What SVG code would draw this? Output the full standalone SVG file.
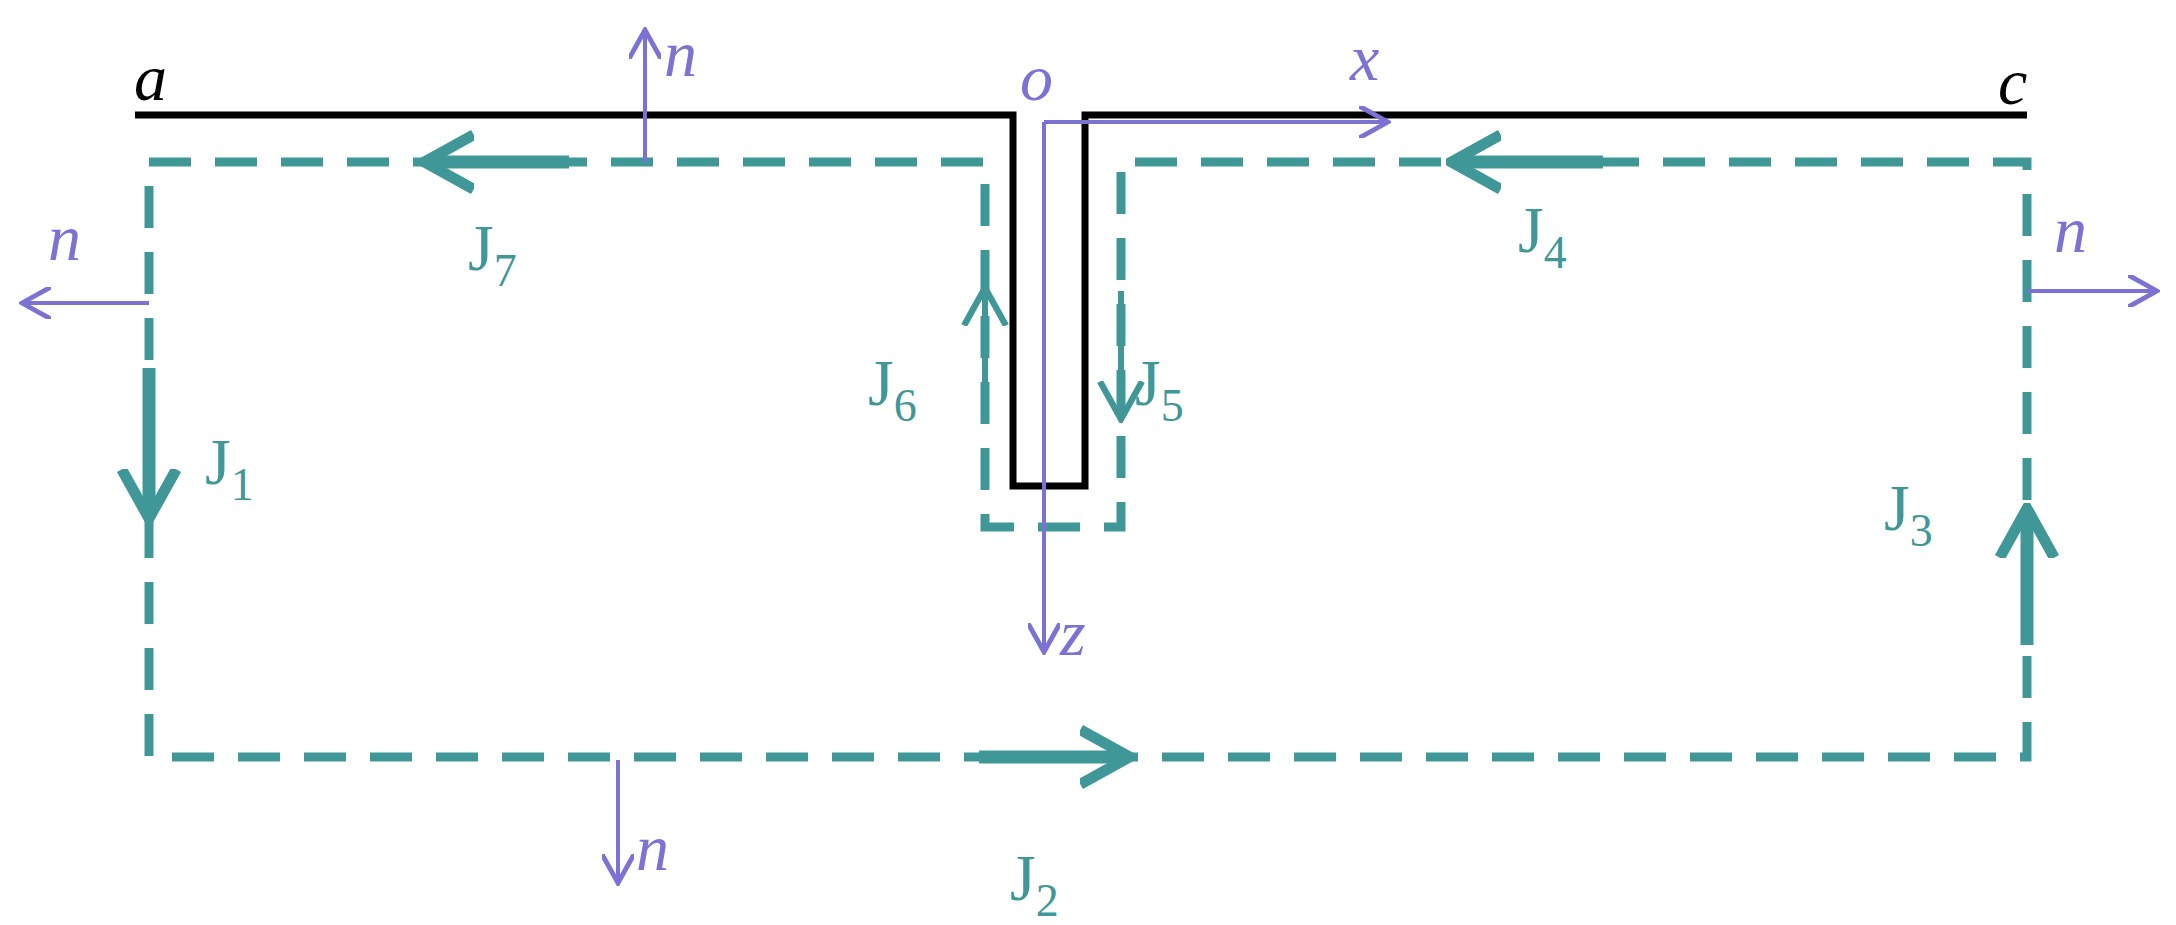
<svg xmlns="http://www.w3.org/2000/svg" width="2176" height="925" viewBox="0 0 2176 925">
<style>
.t{font-family:"Liberation Serif",serif;font-size:66px}
.it{font-style:italic}
.tl{fill:#3f9797}
.bl{fill:#7b72d4}
.dash{fill:none;stroke:#3f9797;stroke-width:9;stroke-dasharray:42,24}
.thk{stroke:#3f9797;stroke-width:13;fill:none}
.thn{stroke:#3f9797;stroke-width:6;fill:none}
.ax{stroke:#7b72d4;stroke-width:4;fill:none}
</style>
<defs>
<marker id="ta" viewBox="0 0 10 10" refX="8" refY="5" markerWidth="4.2" markerHeight="6" orient="auto" markerUnits="strokeWidth"><path d="M0,0 L9,5 L0,10" fill="none" stroke="#3f9797" stroke-width="2"/></marker>
<marker id="ts" viewBox="0 0 10 10" refX="8" refY="5" markerWidth="7" markerHeight="8" orient="auto" markerUnits="strokeWidth"><path d="M0,0 L9,5 L0,10" fill="none" stroke="#3f9797" stroke-width="1.5"/></marker>
<marker id="ba" viewBox="0 0 10 10" refX="9" refY="5" markerWidth="8" markerHeight="8" orient="auto" markerUnits="strokeWidth"><path d="M0,0 L9,5 L0,10" fill="none" stroke="#7b72d4" stroke-width="1.5"/></marker>
</defs>
<g id="conductor"><path d="M135,115 H1013 V486 H1085 V115 H2027" fill="none" stroke="#000" stroke-width="7"/></g>
<g id="loop"><path class="dash" d="M149,162 H985 V527 H1121 V162 H2027 V757 H149 Z"/></g>
<g id="connectors">
<path class="thk" d="M569,162 H430" marker-end="url(#ta)"/>
<path class="thk" d="M1603,162 H1457" marker-end="url(#ta)"/>
<path class="thk" d="M979,757 H1124" marker-end="url(#ta)"/>
<path class="thk" d="M149,368 V513" marker-end="url(#ta)"/>
<path class="thk" d="M2027,645 V514" marker-end="url(#ta)"/>
<path class="thn" d="M985,416 V292" marker-end="url(#ts)"/>
<path class="thn" d="M1121,291 V415" marker-end="url(#ts)"/>
<path class="ax" d="M1044,122 H1388" marker-end="url(#ba)"/>
<path class="ax" d="M1044,122 V652" marker-end="url(#ba)"/>
<path class="ax" d="M645,162 V30" marker-end="url(#ba)"/>
<path class="ax" d="M149,303 H22" marker-end="url(#ba)"/>
<path class="ax" d="M2027,291 H2157" marker-end="url(#ba)"/>
<path class="ax" d="M618,760 V883" marker-end="url(#ba)"/>
</g>
<g id="labels">
<text class="t it" x="134" y="100">a</text>
<text class="t it" x="1998" y="104">c</text>
<text class="t it bl" x="1020" y="100">o</text>
<text class="t it bl" x="1350" y="80">x</text>
<text class="t it bl" x="1060" y="655">z</text>
<text class="t it bl" x="664" y="76">n</text>
<text class="t it bl" x="48" y="260">n</text>
<text class="t it bl" x="2054" y="252">n</text>
<text class="t it bl" x="636" y="870">n</text>
<text class="t tl" x="468" y="270">J<tspan font-size="46" dy="16">7</tspan></text>
<text class="t tl" x="1518" y="252">J<tspan font-size="46" dy="16">4</tspan></text>
<text class="t tl" x="868" y="405">J<tspan font-size="46" dy="16">6</tspan></text>
<text class="t tl" x="1135" y="405">J<tspan font-size="46" dy="16">5</tspan></text>
<text class="t tl" x="205" y="484">J<tspan font-size="46" dy="16">1</tspan></text>
<text class="t tl" x="1884" y="530">J<tspan font-size="46" dy="16">3</tspan></text>
<text class="t tl" x="1010" y="900">J<tspan font-size="46" dy="16">2</tspan></text>
</g>
</svg>
